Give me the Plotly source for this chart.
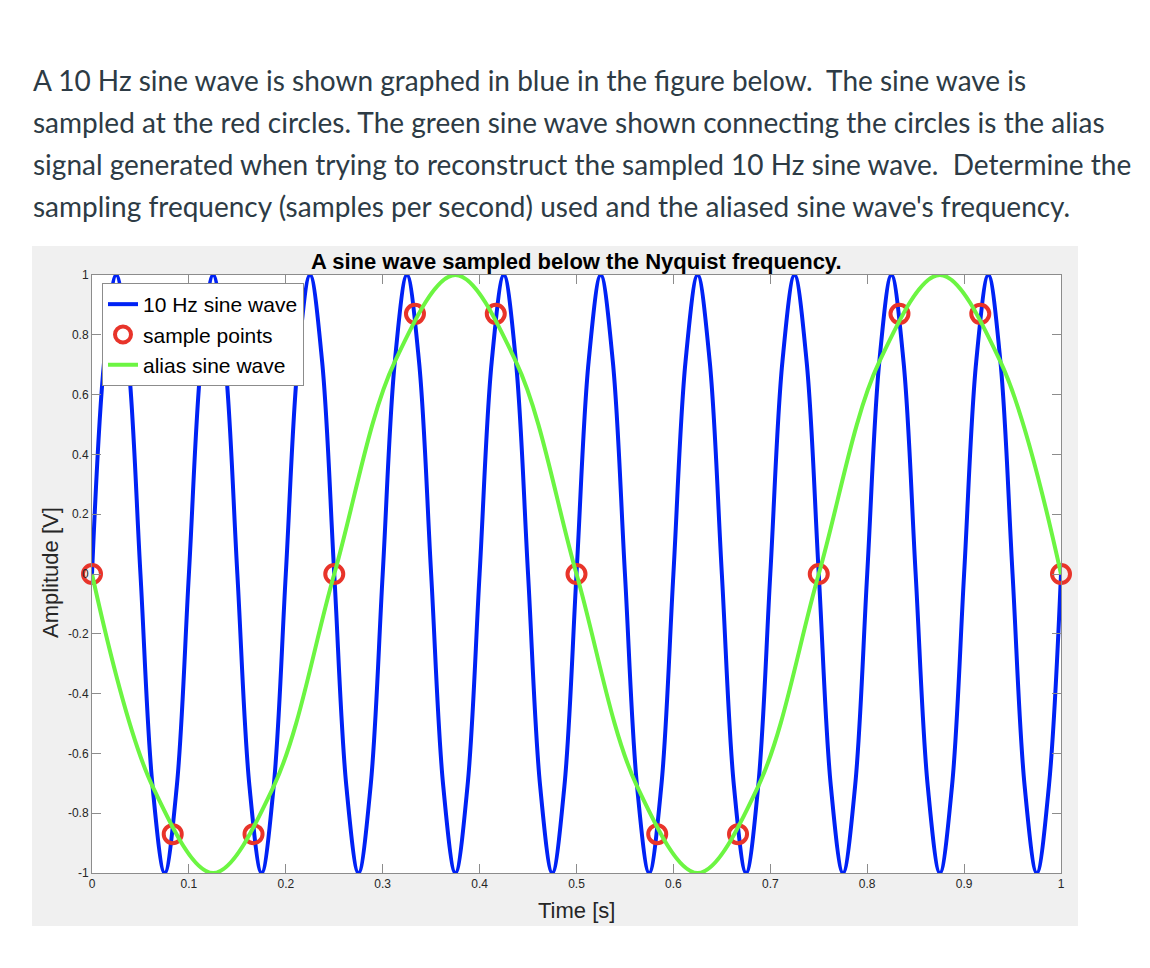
import plotly.graph_objects as go

# texten ovanför figuren
question_lines = [
    "A 10 Hz sine wave is shown graphed in blue in the figure below.  The sine wave is",
    "sampled at the red circles. The green sine wave shown connecting the circles is the alias",
    "signal generated when trying to reconstruct the sampled 10 Hz sine wave.  Determine the",
    "sampling frequency (samples per second) used and the aliased sine wave's frequency.",
]

# 10 Hz sinus, avläst var 1/8 period (0.0125 s)
blue_t = [
    0.0, 0.0125, 0.025, 0.0375, 0.05, 0.0625, 0.075, 0.0875,
    0.1, 0.1125, 0.125, 0.1375, 0.15, 0.1625, 0.175, 0.1875,
    0.2, 0.2125, 0.225, 0.2375, 0.25, 0.2625, 0.275, 0.2875,
    0.3, 0.3125, 0.325, 0.3375, 0.35, 0.3625, 0.375, 0.3875,
    0.4, 0.4125, 0.425, 0.4375, 0.45, 0.4625, 0.475, 0.4875,
    0.5, 0.5125, 0.525, 0.5375, 0.55, 0.5625, 0.575, 0.5875,
    0.6, 0.6125, 0.625, 0.6375, 0.65, 0.6625, 0.675, 0.6875,
    0.7, 0.7125, 0.725, 0.7375, 0.75, 0.7625, 0.775, 0.7875,
    0.8, 0.8125, 0.825, 0.8375, 0.85, 0.8625, 0.875, 0.8875,
    0.9, 0.9125, 0.925, 0.9375, 0.95, 0.9625, 0.975, 0.9875,
    1.0,
]
blue_y = [
    0, 0.71, 1, 0.71, 0, -0.71, -1, -0.71,
    0, 0.71, 1, 0.71, 0, -0.71, -1, -0.71,
    0, 0.71, 1, 0.71, 0, -0.71, -1, -0.71,
    0, 0.71, 1, 0.71, 0, -0.71, -1, -0.71,
    0, 0.71, 1, 0.71, 0, -0.71, -1, -0.71,
    0, 0.71, 1, 0.71, 0, -0.71, -1, -0.71,
    0, 0.71, 1, 0.71, 0, -0.71, -1, -0.71,
    0, 0.71, 1, 0.71, 0, -0.71, -1, -0.71,
    0, 0.71, 1, 0.71, 0, -0.71, -1, -0.71,
    0, 0.71, 1, 0.71, 0, -0.71, -1, -0.71,
    0,
]

# röda cirklar (samplingspunkter)
sample_t = [0.0, 0.0833, 0.1667, 0.25, 0.3333, 0.4167, 0.5,
            0.5833, 0.6667, 0.75, 0.8333, 0.9167, 1.0]
sample_y = [0, -0.87, -0.87, 0, 0.87, 0.87, 0,
            -0.87, -0.87, 0, 0.87, 0.87, 0]

# grön alias-sinus (2 Hz), avläst var 1/8 period
alias_t = [0.0, 0.0625, 0.125, 0.1875, 0.25, 0.3125, 0.375, 0.4375,
           0.5, 0.5625, 0.625, 0.6875, 0.75, 0.8125, 0.875, 0.9375, 1.0]
alias_y = [0, -0.71, -1, -0.71, 0, 0.71, 1, 0.71,
           0, -0.71, -1, -0.71, 0, 0.71, 1, 0.71, 0]

x_ticks = [0, 0.1, 0.2, 0.3, 0.4, 0.5, 0.6, 0.7, 0.8, 0.9, 1]
x_labels = ["0", "0.1", "0.2", "0.3", "0.4", "0.5", "0.6", "0.7", "0.8", "0.9", "1"]
y_ticks = [-1, -0.8, -0.6, -0.4, -0.2, 0, 0.2, 0.4, 0.6, 0.8, 1]
y_labels = ["-1", "-0.8", "-0.6", "-0.4", "-0.2", "0", "0.2", "0.4", "0.6", "0.8", "1"]

# sidan har 8 px marginal i body, så figuren görs lite mindre
OFF = 8
W, H = 1150 - OFF, 968 - OFF
L, R, T, B = 92 - OFF, 1061 - OFF, 275 - OFF, 873 - OFF  # plotytan i pixlar


def px_x(p):
    return (p - OFF - L) / (R - L)


def px_y(p):
    return (B - (p - OFF)) / (B - T)


fig = go.Figure()
fig.add_trace(go.Scatter(x=blue_t, y=blue_y, mode="lines", name="10 Hz sine wave",
                         line=dict(color="#0022f5", width=4, shape="spline", smoothing=1.0)))
fig.add_trace(go.Scatter(x=sample_t, y=sample_y, mode="markers", name="sample points",
                         cliponaxis=False,
                         marker=dict(symbol="circle-open", size=18, color="#e8342a",
                                     line=dict(width=4, color="#e8342a"))))
fig.add_trace(go.Scatter(x=alias_t, y=alias_y, mode="lines", name="alias sine wave",
                         line=dict(color="#6cf542", width=4, shape="spline", smoothing=1.0)))

ax_col = "#8c8c8c"
tick_font = dict(family="Liberation Sans, Arial", size=12, color="#262626")

fig.update_xaxes(range=[0, 1], tickvals=x_ticks, ticktext=x_labels, ticks="inside",
                 ticklen=9, tickcolor=ax_col, showline=True, linecolor=ax_col, linewidth=1,
                 mirror="ticks", showgrid=False, zeroline=False, tickfont=tick_font)
fig.update_yaxes(range=[-1, 1], tickvals=y_ticks, ticktext=y_labels, ticks="inside",
                 ticklen=9, tickcolor=ax_col, showline=True, linecolor=ax_col, linewidth=1,
                 mirror="ticks", showgrid=False, zeroline=False, tickfont=tick_font)

# grå figurbakgrund (matlab) och vit plotyta
fig.add_shape(type="rect", xref="paper", yref="paper", layer="below",
              x0=px_x(32), x1=px_x(1078), y0=px_y(926), y1=px_y(246),
              fillcolor="#f0f0f0", line=dict(width=0))
fig.add_shape(type="rect", xref="paper", yref="paper", layer="below",
              x0=0, x1=1, y0=0, y1=1, fillcolor="white", line=dict(width=0))

line_pos = [80, 122, 164, 206]
for txt, yy in zip(question_lines, line_pos):
    fig.add_annotation(text=txt, xref="paper", yref="paper", x=px_x(31), y=px_y(yy),
                       xanchor="left", yanchor="middle", showarrow=False,
                       font=dict(family="Lato", size=28, color="#2d3b45"))

fig.add_annotation(text="<b>A sine wave sampled below the Nyquist frequency.</b>",
                   xref="paper", yref="paper", x=0.5, y=px_y(261), xanchor="center",
                   yanchor="middle", showarrow=False,
                   font=dict(family="Liberation Sans, Arial", size=22, color="black"))
fig.add_annotation(text="Time [s]", xref="paper", yref="paper", x=0.5, y=px_y(910),
                   xanchor="center", yanchor="middle", showarrow=False,
                   font=dict(family="Liberation Sans, Arial", size=22, color="#262626"))
fig.add_annotation(text="Amplitude [V]", xref="paper", yref="paper", x=px_x(50), y=px_y(573),
                   xanchor="center", yanchor="middle", showarrow=False, textangle=-90,
                   font=dict(family="Liberation Sans, Arial", size=22, color="#262626"))

fig.update_layout(
    width=W, height=H,
    margin=dict(l=L, r=W - R, t=T, b=H - B),
    paper_bgcolor="white", plot_bgcolor="white",
    showlegend=True,
    legend=dict(x=px_x(102), y=px_y(283), xanchor="left", yanchor="top",
                bgcolor="white", bordercolor="#8c8c8c", borderwidth=1,
                font=dict(family="Liberation Sans, Arial", size=21, color="black"),
                tracegroupgap=0, itemwidth=30),
)

fig.write_html("out.html")
